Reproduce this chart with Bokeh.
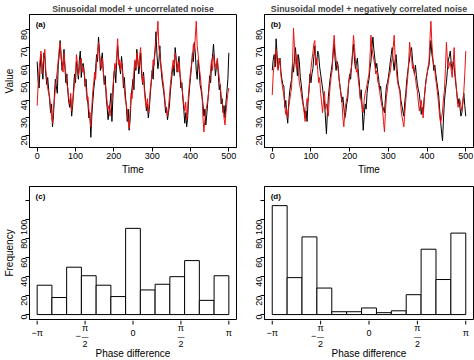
import math
import numpy as np
from bokeh.plotting import figure
from bokeh.layouts import gridplot
from bokeh.models import FixedTicker, Range1d, Label
from bokeh.core.properties import value
from bokeh.embed import file_html
from bokeh.resources import INLINE

FONT = "Liberation Sans"

# ---------------- data ----------------
time = [i * 2.5 for i in range(201)]

a_black = [62, 51, 47, 58, 66, 60, 52, 67, 64, 55, 49, 53, 46, 40, 33, 38, 25, 31, 43, 52,
           48, 44, 60, 66, 74, 65, 57, 62, 69, 58, 50, 55, 45, 39, 36, 41, 31, 37, 47, 55,
           50, 62, 58, 52, 63, 68, 53, 60, 61, 57, 48, 52, 43, 38, 30, 33, 19, 31, 39, 46,
           51, 58, 66, 62, 76, 68, 57, 63, 67, 56, 49, 54, 42, 36, 29, 34, 38, 44, 28, 41,
           55, 58, 50, 62, 71, 64, 59, 55, 65, 59, 47, 53, 43, 37, 28, 35, 23, 29, 41, 47,
           52, 46, 62, 57, 69, 63, 55, 60, 67, 55, 49, 56, 47, 41, 34, 38, 30, 35, 43, 50,
           57, 52, 63, 68, 79, 66, 58, 62, 71, 60, 53, 49, 45, 40, 33, 36, 29, 33, 37, 45,
           51, 56, 60, 54, 70, 64, 56, 61, 65, 55, 47, 50, 41, 35, 27, 33, 25, 30, 40, 47,
           53, 59, 67, 62, 73, 67, 57, 52, 63, 58, 49, 46, 42, 38, 31, 35, 26, 32, 39, 46,
           54, 50, 61, 65, 72, 63, 54, 59, 63, 55, 46, 49, 38, 41, 33, 37, 30, 39, 45, 52,
           67]

a_red = [37, 49, 58, 63, 68, 55, 60, 65, 69, 57, 52, 47, 44, 42, 36, 31, 27, 35, 40, 47,
         52, 57, 63, 69, 73, 64, 61, 56, 67, 60, 55, 49, 47, 41, 38, 44, 34, 39, 44, 50,
         55, 66, 61, 54, 57, 62, 64, 56, 59, 55, 52, 47, 40, 42, 35, 30, 25, 36, 45, 50,
         56, 52, 62, 67, 73, 66, 62, 58, 64, 57, 51, 49, 46, 39, 35, 37, 31, 36, 40, 48,
         53, 61, 58, 66, 75, 60, 63, 57, 62, 56, 52, 46, 40, 38, 33, 28, 24, 34, 44, 41,
         48, 57, 63, 58, 67, 62, 59, 66, 70, 58, 50, 54, 44, 39, 36, 41, 33, 38, 46, 51,
         55, 63, 60, 68, 74, 77, 85, 70, 66, 61, 57, 52, 48, 42, 37, 34, 31, 36, 42, 49,
         54, 59, 63, 58, 67, 64, 60, 56, 62, 55, 51, 47, 43, 38, 34, 39, 29, 35, 44, 50,
         56, 60, 64, 72, 68, 76, 85, 71, 66, 59, 55, 49, 44, 30, 22, 29, 34, 37, 40, 45,
         50, 58, 63, 57, 66, 62, 60, 58, 64, 57, 53, 48, 43, 39, 36, 30, 26, 33, 39, 44,
         47]

b_black = [57, 63, 66, 59, 75, 66, 58, 61, 64, 56, 52, 49, 48, 36, 40, 32, 27, 38, 45, 49,
           52, 61, 56, 64, 70, 62, 54, 66, 62, 53, 49, 43, 38, 35, 30, 34, 28, 40, 46, 55,
           50, 55, 58, 65, 71, 60, 62, 68, 66, 59, 55, 51, 47, 42, 39, 30, 21, 33, 42, 48,
           53, 57, 61, 67, 72, 63, 57, 62, 60, 53, 48, 44, 39, 42, 36, 30, 33, 38, 41, 50,
           55, 52, 60, 66, 72, 63, 58, 61, 64, 56, 50, 41, 46, 35, 23, 31, 38, 35, 44, 49,
           52, 58, 62, 70, 76, 69, 64, 58, 61, 56, 52, 46, 48, 42, 37, 35, 33, 41, 48, 50,
           53, 57, 62, 66, 70, 62, 57, 63, 66, 58, 51, 48, 46, 40, 37, 34, 31, 39, 44, 51,
           56, 60, 64, 68, 70, 63, 58, 55, 60, 54, 49, 46, 44, 38, 32, 36, 33, 41, 46, 52,
           55, 58, 60, 67, 74, 66, 63, 57, 60, 55, 51, 47, 43, 35, 28, 22, 17, 30, 40, 46,
           50, 57, 63, 65, 68, 61, 57, 62, 59, 53, 48, 43, 38, 41, 36, 31, 33, 39, 44, 37,
           31]

b_red = [43, 55, 60, 66, 69, 61, 57, 64, 62, 54, 50, 46, 43, 37, 32, 35, 30, 36, 40, 44,
         47, 62, 81, 70, 62, 58, 66, 56, 50, 47, 44, 40, 37, 33, 28, 36, 41, 39, 46, 52,
         58, 63, 67, 72, 74, 60, 64, 57, 50, 53, 44, 39, 33, 40, 45, 35, 38, 34, 31, 42,
         49, 54, 57, 70, 77, 68, 63, 60, 58, 52, 48, 43, 40, 30, 25, 33, 38, 41, 44, 50,
         53, 57, 59, 68, 77, 70, 63, 56, 58, 51, 47, 42, 39, 36, 33, 40, 44, 46, 49, 52,
         55, 64, 77, 70, 66, 63, 60, 55, 57, 51, 49, 45, 41, 38, 35, 28, 22, 34, 42, 46,
         51, 54, 56, 61, 64, 70, 77, 65, 59, 53, 49, 47, 44, 36, 31, 28, 25, 33, 40, 47,
         53, 62, 73, 67, 64, 58, 60, 55, 53, 48, 45, 39, 34, 37, 40, 35, 30, 39, 47, 51,
         55, 59, 62, 75, 85, 72, 64, 60, 57, 52, 48, 43, 38, 31, 27, 30, 34, 41, 46, 58,
         73, 63, 58, 60, 62, 57, 53, 61, 70, 56, 49, 42, 36, 38, 40, 37, 34, 39, 45, 55,
         68]

counts_c = [31, 18, 50, 41, 31, 19, 91, 26, 32, 40, 57, 15, 41]
counts_d = [115, 39, 82, 28, 3, 3, 7, 2, 4, 21, 69, 37, 86]

time_ticks = [0, 100, 200, 300, 400, 500]
value_ticks = [20, 30, 40, 50, 60, 70, 80]
freq_ticks = [0, 20, 40, 60, 80, 100, 120]
phase_ticks = [-math.pi, -math.pi / 2, 0.0, math.pi / 2, math.pi]
whole_ticks = [-math.pi, 0.0, math.pi]
whole_labels = ["\u2212\u03c0", "0", "\u03c0"]
half_ticks = [-math.pi / 2, math.pi / 2]

titles = ["Sinusoidal model + uncorrelated noise",
          "Sinusoidal model + negatively correlated noise"]
panel_tags = ["(a)", "(b)", "(c)", "(d)"]

# layout geometry
COL_W = [237, 237]
BORDER_L = [29, 27]
BORDER_R = 1
TOP_H = 177
HIST_H = 143
STRIP_H = 40


# ---------------- helpers ----------------
def style(p):
    p.background_fill_color = "white"
    p.border_fill_color = "white"
    p.outline_line_color = "black"
    p.outline_line_width = 1
    p.xgrid.visible = False
    p.ygrid.visible = False
    for ax in p.xaxis + p.yaxis:
        ax.axis_line_color = "black"
        ax.major_tick_line_color = "black"
        ax.major_tick_out = 4
        ax.major_tick_in = 0
        ax.minor_tick_line_color = None
        ax.major_label_text_font = FONT
        ax.major_label_text_font_size = "9px"
        ax.major_label_text_color = "black"
        ax.major_label_standoff = 1
        ax.axis_label_text_font = FONT
        ax.axis_label_text_font_size = "10px"
        ax.axis_label_text_font_style = "normal"
        ax.axis_label_text_color = "black"
        ax.axis_label_standoff = 2
    p.yaxis.major_label_orientation = math.pi / 2
    p.yaxis.axis_label_standoff = 1


def tag(p, x, y, text):
    p.add_layout(Label(x=x, y=y, text=text, text_font=FONT, text_font_size="8px",
                       text_font_style="bold", text_baseline="middle",
                       text_align="left", text_color="black"))


def series_panel(i, black, red, col, ylabel):
    p = figure(width=COL_W[col], height=TOP_H, output_backend="svg", toolbar_location=None,
               x_range=Range1d(-20, 520), y_range=Range1d(13.2, 88.8),
               min_border_left=BORDER_L[col], min_border_right=BORDER_R,
               min_border_top=4, min_border_bottom=0)
    p.title.text = titles[i]
    p.title.text_font = FONT
    p.title.text_font_size = "8.8px"
    p.title.text_font_style = "bold"
    p.title.align = "center"
    p.title.standoff = 2
    p.line(time, black, color="black", line_width=1)
    p.line(time, red, color="#ee1111", line_width=1)
    style(p)
    p.xaxis.ticker = FixedTicker(ticks=time_ticks)
    p.yaxis.ticker = FixedTicker(ticks=value_ticks)
    p.xaxis.axis_label = "Time"
    if ylabel:
        p.yaxis.axis_label = ylabel
    tag(p, -4, 83, panel_tags[i])
    return p


def hist_panel(i, counts, col, ylabel, xr):
    lo, hi = -math.pi, math.pi
    p = figure(width=COL_W[col], height=HIST_H, output_backend="svg", toolbar_location=None,
               x_range=xr, y_range=Range1d(-5.2, 135.2),
               min_border_left=BORDER_L[col], min_border_right=BORDER_R,
               min_border_top=9, min_border_bottom=1, x_axis_location=None)
    edges = np.linspace(lo, hi, len(counts) + 1)
    p.quad(left=edges[:-1], right=edges[1:], bottom=0, top=counts,
           fill_color="white", line_color="black", line_width=1)
    style(p)
    p.yaxis.ticker = FixedTicker(ticks=freq_ticks)
    p.yaxis.major_label_overrides = {120: ""}
    if ylabel:
        p.yaxis.axis_label = ylabel
    tag(p, lo - 0.04 * (hi - lo) + 0.2, 124.5, panel_tags[i])
    return p


def label_strip(col, xr):
    # strip under a histogram: its x ticks, fraction tick labels and axis title
    H = STRIP_H
    p = figure(width=COL_W[col], height=H, output_backend="svg", toolbar_location=None,
               x_range=xr, y_range=Range1d(0, H),
               min_border_left=BORDER_L[col], min_border_right=BORDER_R,
               min_border_top=0, min_border_bottom=0,
               x_axis_location=None, y_axis_location=None)
    p.outline_line_color = None
    p.background_fill_color = "white"
    p.border_fill_color = "white"
    p.grid.visible = False
    base = H + 1  # strip top sits 1px below the histogram frame
    p.segment(x0=phase_ticks, y0=[H] * 5, x1=phase_ticks, y1=[base - 5] * 5,
              line_color="black", line_width=1)
    common = dict(text_font=value(FONT), text_color="black",
                  text_align="center", text_baseline="middle")
    p.text(x=whole_ticks, y=[base - 13] * 3, text=whole_labels,
           text_font_size=value("9px"), **common)
    p.text(x=half_ticks, y=[base - 8.5] * 2, text=["\u03c0"] * 2,
           text_font_size=value("9px"), **common)
    p.text(x=half_ticks, y=[base - 16.5] * 2, text=["\u2014"] * 2,
           text_font_size=value("7px"), **common)
    p.text(x=half_ticks[:1], y=[base - 16.5], text=["\u2212"], x_offset=-7,
           text_font_size=value("9px"), **common)
    p.text(x=half_ticks, y=[base - 24] * 2, text=["2"] * 2,
           text_font_size=value("9px"), **common)
    p.text(x=[0.0], y=[base - 34], text=["Phase difference"],
           text_font_size=value("10px"), **common)
    return p


pad = 0.04 * 2 * math.pi
xr_c = Range1d(-math.pi - pad, math.pi + pad)
xr_d = Range1d(-math.pi - pad, math.pi + pad)

pa = series_panel(0, a_black, a_red, 0, "Value")
pb = series_panel(1, b_black, b_red, 1, None)
pc = hist_panel(2, counts_c, 0, "Frequency", xr_c)
pd = hist_panel(3, counts_d, 1, None, xr_d)
lc = label_strip(0, xr_c)
ld = label_strip(1, xr_d)

grid = gridplot([[pa, pb], [pc, pd], [lc, ld]], toolbar_location=None)

open("out.html", "w").write(file_html(grid, INLINE))
